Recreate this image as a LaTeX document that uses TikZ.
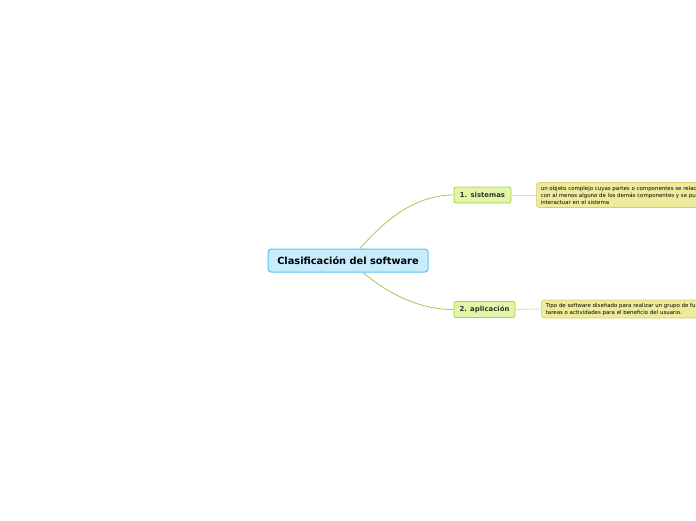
\documentclass[tikz,border=0pt]{standalone}
\usepackage{fontspec}
\setmainfont{DejaVu Sans}
\usepackage{tikz}

\definecolor{centralfill}{HTML}{C7ECFB}
\definecolor{centraldraw}{HTML}{5EC2EE}
\definecolor{branchfill}{HTML}{E2F6A6}
\definecolor{branchdraw}{HTML}{A4D04C}
\definecolor{notefill}{HTML}{EFEB9C}
\definecolor{notedraw}{HTML}{D7CE74}
\definecolor{linkgreen}{HTML}{A9C54C}
\definecolor{linknote}{HTML}{E3E1B4}
\definecolor{inkgray}{HTML}{333333}

\begin{document}
\begin{tikzpicture}[x=1pt,y=-1pt,
    central/.style={draw=centraldraw, fill=centralfill, line width=1pt, rounded corners=3pt,
      font=\fontsize{9.8}{11}\selectfont\bfseries, text=black, minimum width=160pt, minimum height=23pt, inner sep=0pt},
    branch/.style={draw=branchdraw, fill=branchfill, line width=0.8pt, rounded corners=2pt,
      font=\fontsize{6.9}{8}\selectfont\bfseries, text=inkgray, minimum height=16pt, inner sep=0pt},
    note/.style={draw=notedraw, fill=notefill, line width=0.6pt, rounded corners=3pt,
      font=\fontsize{5.45}{7}\selectfont, text=black, align=left, anchor=west, inner xsep=4.5pt, inner ysep=2pt},
    link/.style={linkgreen, line width=0.8pt},
    notelink/.style={linknote, line width=0.9pt}]
        \useasboundingbox (0,0) rectangle (696,520);
        \node[central] (clasif) at (348,260.5) {Clasificación del software};
        \node[branch, minimum width=57pt] (sistemas) at (482.5,195) {1. sistemas};
        \node[branch, minimum width=61pt] (aplicacion) at (484.5,309.5) {2. aplicación};
        \node[note, minimum height=25pt] (notesis) at (536,195) {un objeto complejo cuyas partes o componentes se relacionan\\con al menos alguno de los demás componentes y se pueden\\interactuar en el sistema};
        \node[note, minimum height=18pt] (noteapl) at (541,309) {Tipo de software diseñado para realizar un grupo de funciones,\\tareas o actividades para el beneficio del usuario.};
        \draw[link] ([xshift=12pt]clasif.north) .. controls (385,220) and (415,195) .. (sistemas.west);
        \draw[link] ([xshift=15pt]clasif.south) .. controls (390,295) and (420,309.5) .. (aplicacion.west);
        \draw[notelink] (sistemas.east) -- (notesis.west);
        \draw[notelink] (aplicacion.east) -- (noteapl.west);
      \end{tikzpicture}
\end{document}
